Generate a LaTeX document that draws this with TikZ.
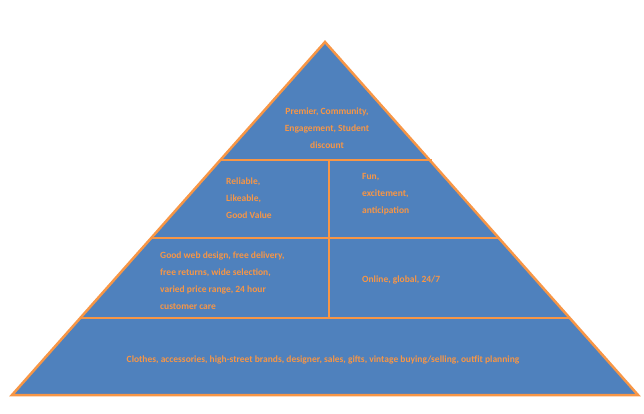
\documentclass[tikz,border=0pt]{standalone}
\usepackage{fontspec}
\setmainfont{Carlito}
\begin{document}
\definecolor{pblue}{HTML}{4F81BD}
\definecolor{porange}{HTML}{F79646}
\begin{tikzpicture}[x=1pt,y=-1pt,
  edge/.style={draw=porange,line width=2.5pt},
  lbl/.style={text=porange,font=\bfseries\fontsize{9.5}{17}\selectfont,inner sep=0pt}]
\useasboundingbox (0,0) rectangle (644,414);
\coordinate (apex) at (325,42);
\coordinate (bl) at (12,395);
\coordinate (br) at (638,395);
\fill[pblue] (apex) -- (bl) -- (br) -- cycle;
\coordinate (l1) at (220,160); \coordinate (r1) at (432,160);
\coordinate (l2) at (151,238); \coordinate (r2) at (500,238);
\coordinate (l3) at (80,318);  \coordinate (r3) at (570,318);
\coordinate (v1) at (329,160); \coordinate (v2) at (329,318);
\draw[edge] (l1) -- (r1) (l2) -- (r2) (l3) -- (r3) (v1) -- (v2);
\draw[edge,line join=miter] (apex) -- (bl) -- (br) -- cycle;
\node[lbl,align=center] (t1) at (327,128) {Premier, Community,\\Engagement, Student\\discount};
\node[lbl,align=left,anchor=west] (t2) at (226,198) {Reliable,\\Likeable,\\Good Value};
\node[lbl,align=left,anchor=west] (t3) at (362,194) {Fun,\\excitement,\\anticipation};
\node[lbl,align=left,anchor=west] (t4) at (160,281) {Good web design, free delivery,\\free returns, wide selection,\\varied price range, 24 hour\\customer care};
\node[lbl,anchor=west] (t5) at (362,280) {Online, global, 24/7};
\node[lbl] (t6) at (323,360) {Clothes, accessories, high-street brands, designer, sales, gifts, vintage buying/selling, outfit planning};
\end{tikzpicture}
\end{document}
